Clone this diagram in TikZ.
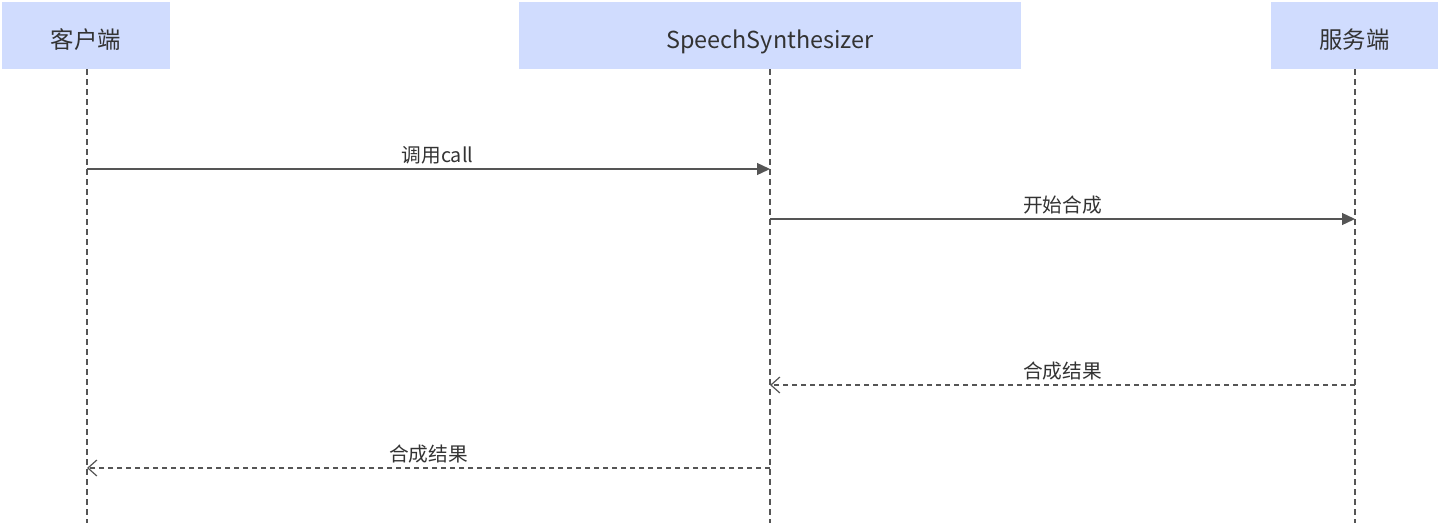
\documentclass[tikz,border=0pt]{standalone}
\usepackage{fontspec}
\setmainfont{Noto Sans CJK SC}
\usetikzlibrary{arrows.meta}
\definecolor{actorfill}{HTML}{D0DCFE}
\definecolor{msgline}{HTML}{555555}
\definecolor{msgtext}{HTML}{333333}

\begin{document}
\begin{tikzpicture}[x=1pt, y=-1pt,
        actor/.style={fill=actorfill, minimum height=67pt, inner sep=0pt, text=msgtext, text height=25.8pt, text depth=0pt, font=\fontsize{23.4}{23.4}\selectfont},
        life/.style={draw=msgline, dashed, dash pattern=on 6pt off 4pt, line width=1.2pt},
        call/.style={draw=msgline, line width=1.3pt, -{Triangle[length=13pt,width=12pt]}},
        reply/.style={draw=msgline, line width=1.2pt, dash pattern=on 5pt off 4pt, -{Straight Barb[length=9pt,width=16pt,line width=1.2pt]}},
        lbl/.style={text=msgtext, font=\fontsize{19.7}{19.7}\selectfont, inner sep=0pt}]
        \useasboundingbox (0,0) rectangle (1440,523);

        \node[actor, minimum width=168pt] (C) at (86,35.5) {客户端};
        \node[actor, minimum width=502pt] (S) at (770,35.5) {SpeechSynthesizer};
        \node[actor, minimum width=167pt] (V) at (1354.5,35.5) {服务端};

        \coordinate (Cend) at (87,523);
        \coordinate (Send) at (770,523);
        \coordinate (Vend) at (1355,523);
        \draw[life] (C.south -| Cend) -- (Cend);
        \draw[life] (S.south -| Send) -- (Send);
        \draw[life] (V.south -| Vend) -- (Vend);

        % messages
        \coordinate (c1) at (87,169);   \coordinate (s1) at (770,169);
        \coordinate (s2) at (770,219);  \coordinate (v2) at (1355,219);
        \coordinate (v3) at (1355,385); \coordinate (s3) at (770,385);
        \coordinate (s4) at (770,468);  \coordinate (c4) at (87,468);

        \draw[call] (c1) -- (s1) node[lbl, midway, above=4pt, xshift=9pt] (m1) {调用call};
        \draw[call] (s2) -- (v2) node[lbl, midway, above=4pt] (m2) {开始合成};
        \draw[reply] (v3) -- (s3) node[lbl, midway, above=4pt] (m3) {合成结果};
        \draw[reply] (s4) -- (c4) node[lbl, midway, above=4pt] (m4) {合成结果};
    \end{tikzpicture}
\end{document}
